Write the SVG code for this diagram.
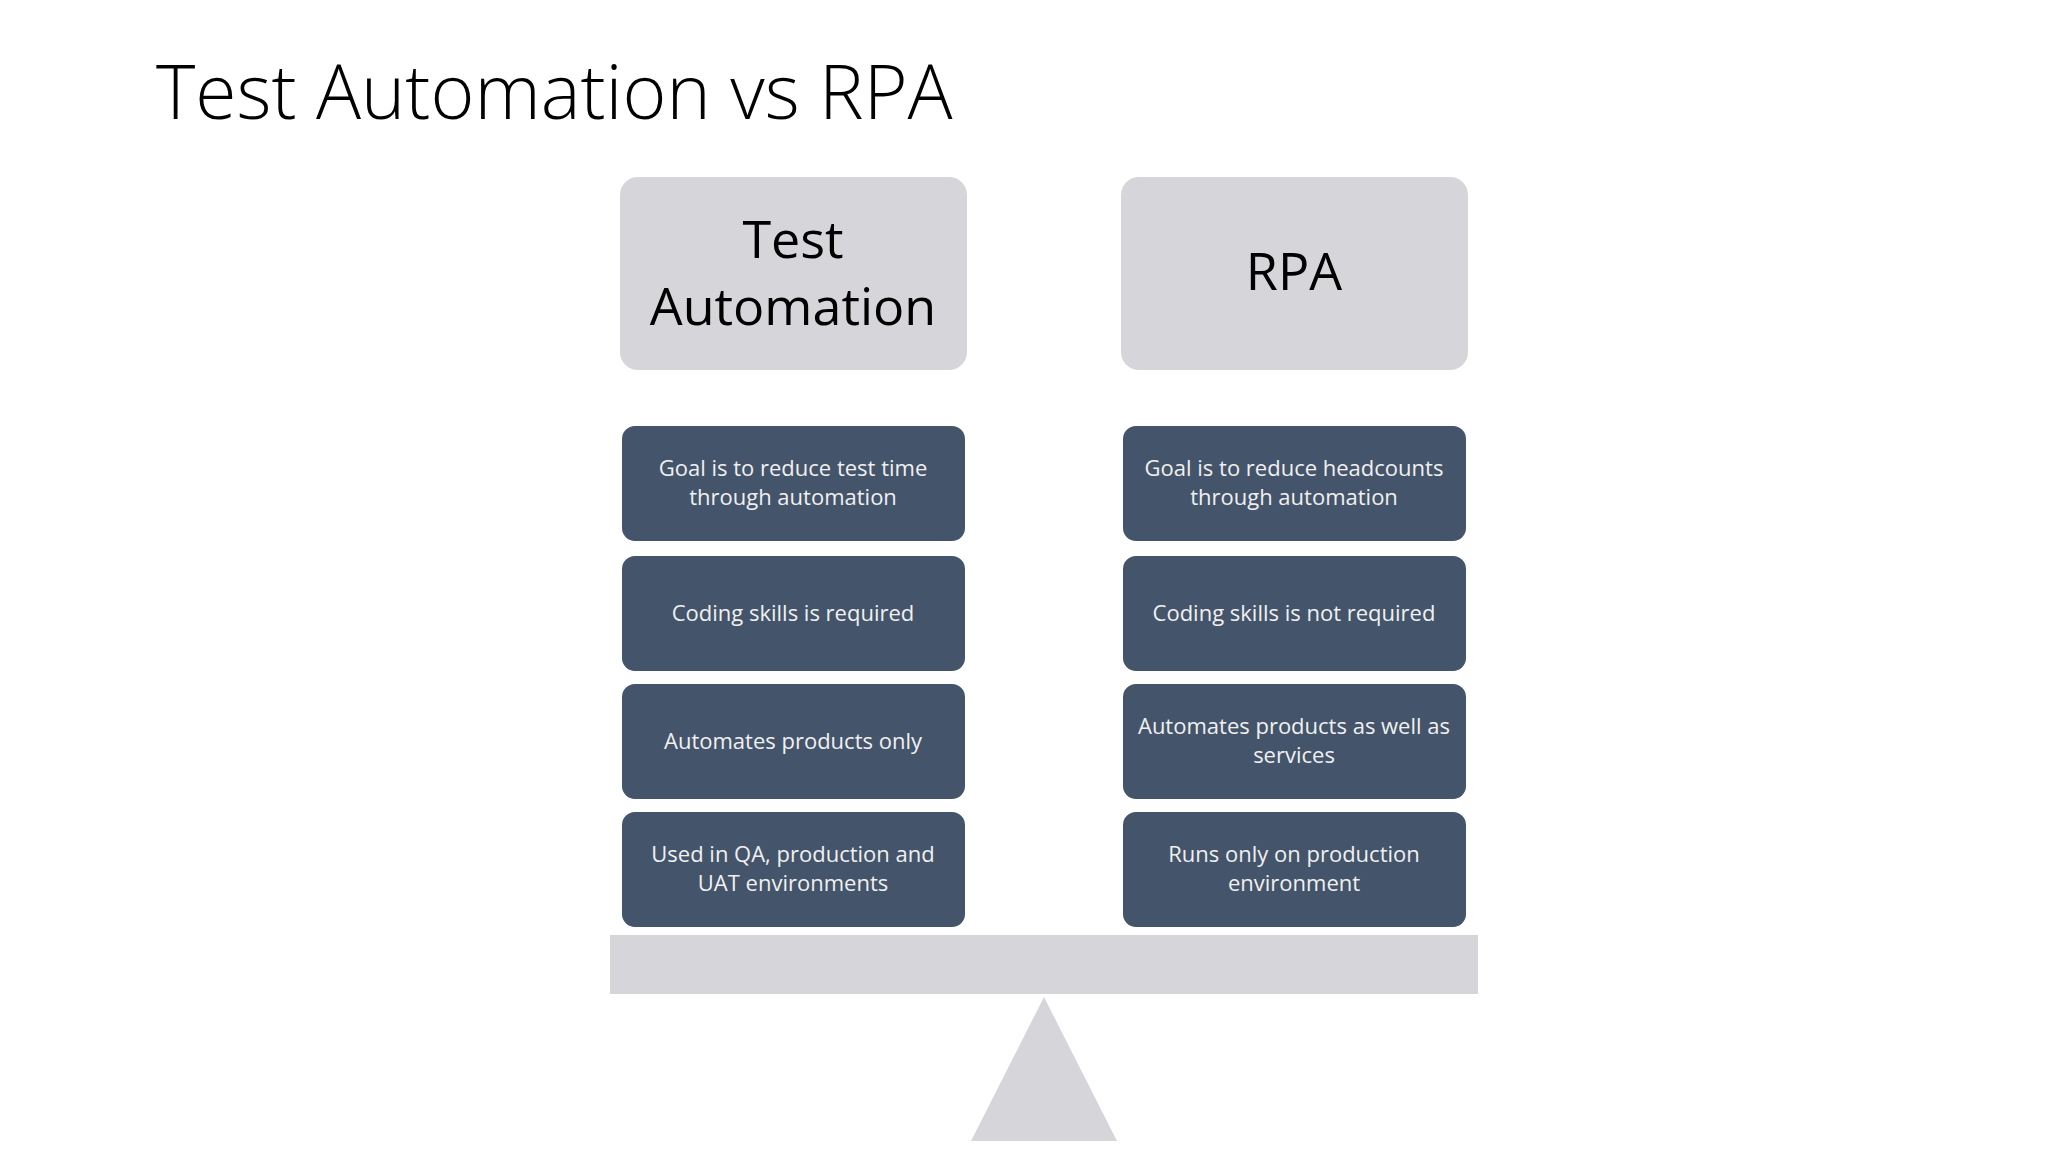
<svg xmlns="http://www.w3.org/2000/svg" width="2048" height="1152" viewBox="0 0 2048 1152">
<style>
.hd{fill:#d6d6da}
.bx{fill:#44546a;stroke:#ffffff;stroke-width:2}
.ht{font-family:"Open Sans","Liberation Sans",sans-serif;font-size:52px;fill:#000;text-anchor:middle}
.bt{font-family:"Open Sans","Liberation Sans",sans-serif;font-size:22px;fill:#f0f0f0;text-anchor:middle}
</style>
<rect width="2048" height="1152" fill="#fff"/>
<text x="156" y="119" font-family="'Open Sans','Liberation Sans',sans-serif" font-weight="300" font-size="75" fill="#000">Test Automation vs RPA</text>
<g id="h1"><rect class="hd" x="620" y="177" width="347" height="193" rx="18"/><text class="ht" x="793" y="258">Test</text><text class="ht" x="793" y="325">Automation</text></g>
<g id="h2"><rect class="hd" x="1121" y="177" width="347" height="193" rx="18"/><text class="ht" x="1294" y="290">RPA</text></g>
<g id="l1"><rect class="bx" x="621" y="425" width="345" height="117" rx="14"/><text class="bt" x="793" y="476">Goal is to reduce test time</text><text class="bt" x="793" y="505">through automation</text></g>
<g id="l2"><rect class="bx" x="621" y="555" width="345" height="117" rx="14"/><text class="bt" x="793" y="621">Coding skills is required</text></g>
<g id="l3"><rect class="bx" x="621" y="683" width="345" height="117" rx="14"/><text class="bt" x="793" y="749">Automates products only</text></g>
<g id="l4"><rect class="bx" x="621" y="811" width="345" height="117" rx="14"/><text class="bt" x="793" y="862">Used in QA, production and</text><text class="bt" x="793" y="891">UAT environments</text></g>
<g id="r1"><rect class="bx" x="1122" y="425" width="345" height="117" rx="14"/><text class="bt" x="1294" y="476">Goal is to reduce headcounts</text><text class="bt" x="1294" y="505">through automation</text></g>
<g id="r2"><rect class="bx" x="1122" y="555" width="345" height="117" rx="14"/><text class="bt" x="1294" y="621">Coding skills is not required</text></g>
<g id="r3"><rect class="bx" x="1122" y="683" width="345" height="117" rx="14"/><text class="bt" x="1294" y="734">Automates products as well as</text><text class="bt" x="1294" y="763">services</text></g>
<g id="r4"><rect class="bx" x="1122" y="811" width="345" height="117" rx="14"/><text class="bt" x="1294" y="862">Runs only on production</text><text class="bt" x="1294" y="891">environment</text></g>
<g id="scale"><rect class="hd" x="610" y="935" width="868" height="59"/><polygon class="hd" points="1044,997 1117,1141 971,1141"/></g>
<g id="connectors"/>
</svg>
